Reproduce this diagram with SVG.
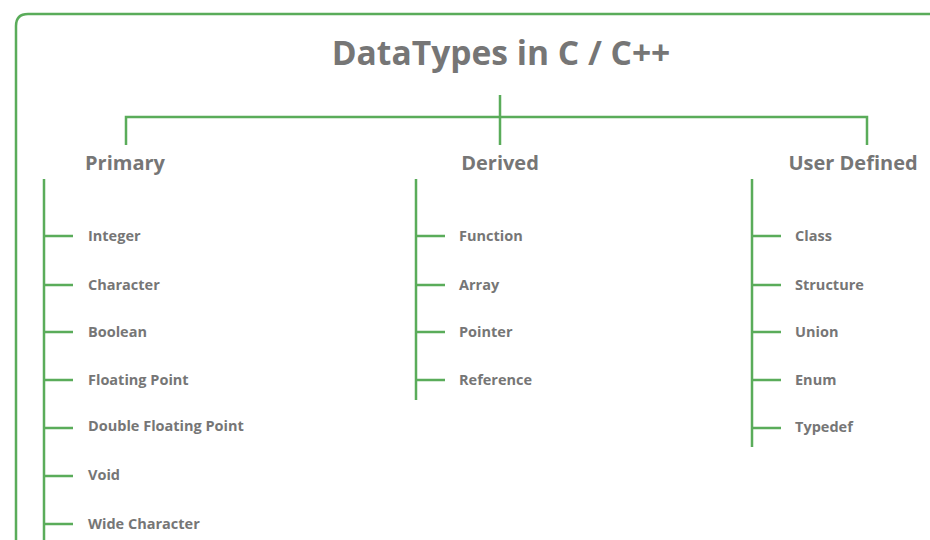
<svg xmlns="http://www.w3.org/2000/svg" width="930" height="540" viewBox="0 0 930 540">
<style>
.ln{stroke:#5aac5a;stroke-width:2.5;fill:none}
.t{font-family:"Open Sans","Liberation Sans",sans-serif;font-weight:bold;fill:#767676}
.title{font-size:33.6px;text-anchor:middle}
.cat{font-size:20px;text-anchor:middle}
.item{font-size:14.5px}
</style>
<rect width="930" height="540" fill="#ffffff"/>
<path class="ln" d="M16 560 V26 Q16 14 28 14 H940"/>
<text class="t title" x="501" y="65">DataTypes in C / C++</text>
<g id="connectors">
<path class="ln" d="M500 95 V145 M126 145 V117 H867 V145"/>
<path class="ln" d="M44 179 V545 M44 236 H73 M44 285 H73 M44 332 H73 M44 380 H73 M44 428 H73 M44 476 H73 M44 524 H73"/>
<path class="ln" d="M416 179 V400 M416 236 H445 M416 285 H445 M416 332 H445 M416 380 H445"/>
<path class="ln" d="M752 179 V447 M752 236 H781 M752 285 H781 M752 332 H781 M752 380 H781 M752 428 H781"/>
</g>
<g id="primary"><text class="t cat" x="125" y="170">Primary</text></g>
<g id="derived"><text class="t cat" x="500" y="170">Derived</text></g>
<g id="userdefined"><text class="t cat" x="853" y="170">User Defined</text></g>
<g id="integer"><text class="t item" x="88" y="241">Integer</text></g>
<g id="character"><text class="t item" x="88" y="290">Character</text></g>
<g id="boolean"><text class="t item" x="88" y="337">Boolean</text></g>
<g id="floating"><text class="t item" x="88" y="385">Floating Point</text></g>
<g id="double"><text class="t item" x="88" y="431">Double Floating Point</text></g>
<g id="void"><text class="t item" x="88" y="480">Void</text></g>
<g id="wide"><text class="t item" x="88" y="529">Wide Character</text></g>
<g id="function"><text class="t item" x="459" y="241">Function</text></g>
<g id="array"><text class="t item" x="459" y="290">Array</text></g>
<g id="pointer"><text class="t item" x="459" y="337">Pointer</text></g>
<g id="reference"><text class="t item" x="459" y="385">Reference</text></g>
<g id="class"><text class="t item" x="795" y="241">Class</text></g>
<g id="structure"><text class="t item" x="795" y="290">Structure</text></g>
<g id="union"><text class="t item" x="795" y="337">Union</text></g>
<g id="enum"><text class="t item" x="795" y="385">Enum</text></g>
<g id="typedef"><text class="t item" x="795" y="432">Typedef</text></g>
</svg>
